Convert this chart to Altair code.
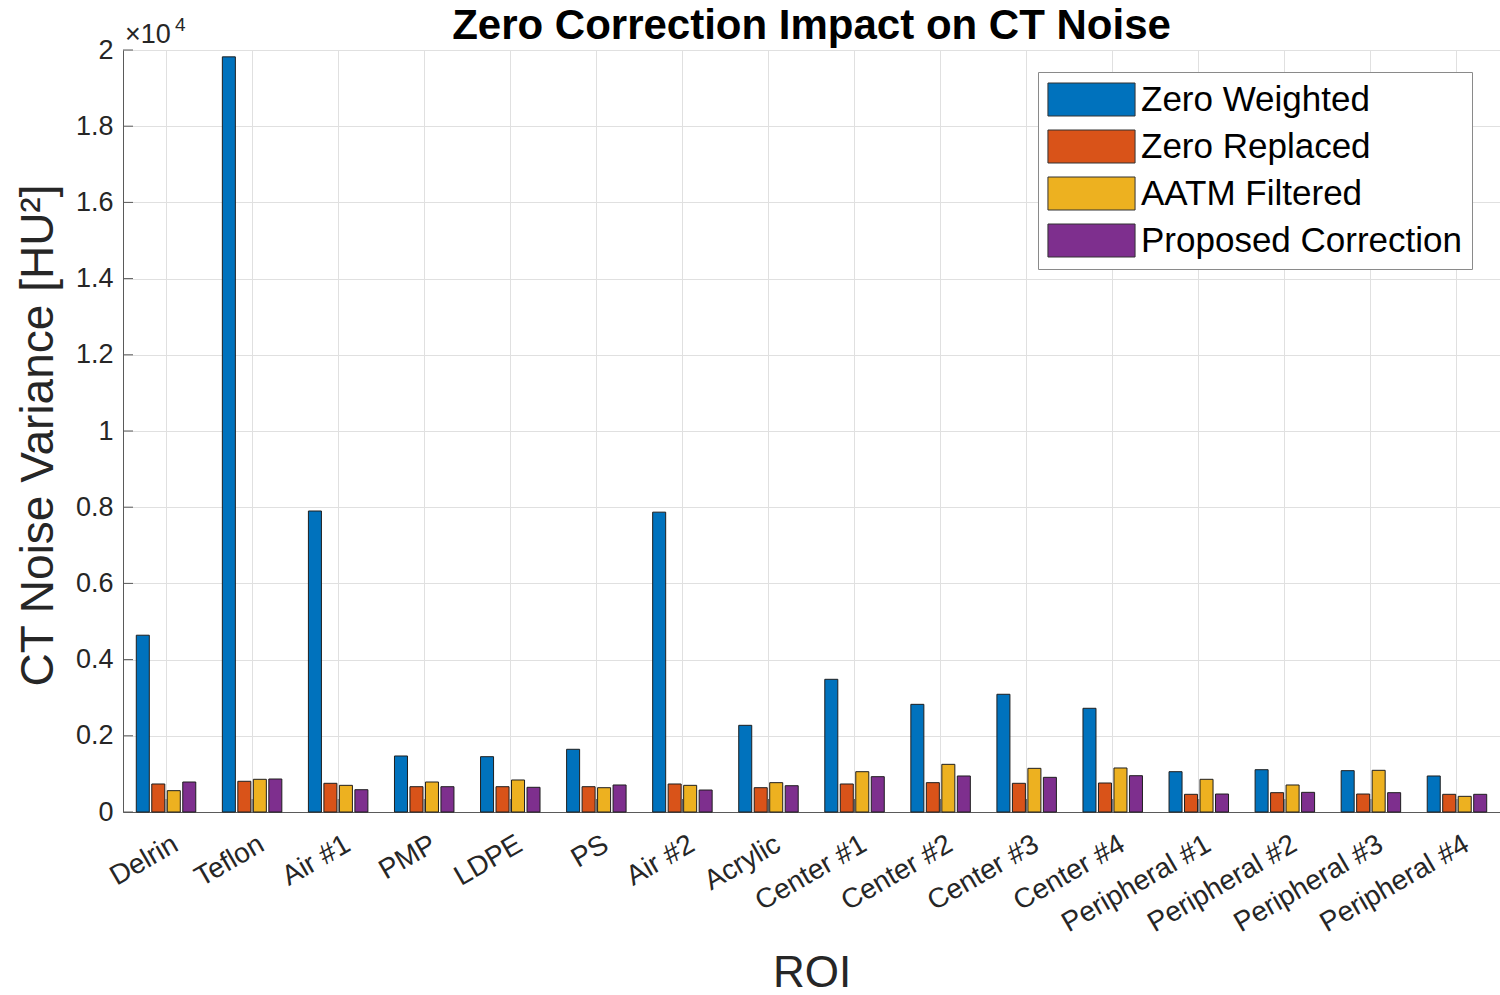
import altair as alt
import pandas as pd

# Regions of interest, in display order
rois = [
    "Delrin", "Teflon", "Air #1", "PMP", "LDPE", "PS", "Air #2", "Acrylic",
    "Center #1", "Center #2", "Center #3", "Center #4",
    "Peripheral #1", "Peripheral #2", "Peripheral #3", "Peripheral #4",
]

# CT noise variance per ROI [HU^2]
zero_weighted = [4640, 19820, 7900, 1470, 1452, 1646, 7870, 2275,
                 3483, 2826, 3090, 2722, 1058, 1110, 1085, 945]
zero_replaced = [735, 806, 753, 664, 664, 664, 735, 638,
                 735, 770, 753, 761, 464, 507, 472, 464]
aatm_filtered = [560, 858, 700, 787, 840, 638, 700, 770,
                 1058, 1251, 1146, 1155, 858, 709, 1094, 411]
proposed_correction = [787, 866, 585, 664, 648, 709, 577, 690,
                       927, 945, 910, 953, 472, 516, 507, 464]

series = ["Zero Weighted", "Zero Replaced", "AATM Filtered", "Proposed Correction"]
colors = ["#0072BD", "#D95319", "#EDB120", "#7E2F8E"]

y_ticks = [0, 2000, 4000, 6000, 8000, 10000, 12000, 14000, 16000, 18000, 20000]
exponent_base = ["×10"]
exponent_power = ["4"]

FONT = "Liberation Sans"
AXIS_COLOR = "#5a5a5a"
TEXT_COLOR = "#262626"
GRID_COLOR = "#e0e0e0"

values = [zero_weighted, zero_replaced, aatm_filtered, proposed_correction]
rows = []
for name, vals in zip(series, values):
    for roi, v in zip(rois, vals):
        rows.append({"ROI": roi, "Series": name, "Variance": v})
df = pd.DataFrame(rows)

W, H = 1377, 762

x_axis = alt.Axis(
    title="ROI",
    titleFontSize=44,
    titleFontWeight="normal",
    titleFont=FONT,
    titleColor=TEXT_COLOR,
    titleY=161,
    titleBaseline="middle",
    labelAngle=330,
    labelAlign="right",
    labelBaseline="top",
    labelFontSize=28,
    labelFont=FONT,
    labelColor=TEXT_COLOR,
    labelPadding=18,
    labelOffset=3,
    labelOverlap=False,
    labelBound=False,
    labelFlush=False,
    ticks=False,
    tickSize=0,
    grid=True,
    gridColor=GRID_COLOR,
    bandPosition=0.5,
    domainColor=AXIS_COLOR,
)

y_axis = alt.Axis(
    title="CT Noise Variance [HU²]",
    titleFontSize=46,
    titleFontWeight="normal",
    titleFont=FONT,
    titleColor=TEXT_COLOR,
    titleX=-85,
    titleY=H / 2 + 4,
    titleAngle=270,
    titleAlign="center",
    titleBaseline="middle",
    values=y_ticks,
    labelExpr="format(datum.value / 10000, '~g')",
    labelFontSize=27,
    labelFont=FONT,
    labelColor=TEXT_COLOR,
    labelPadding=10,
    ticks=False,
    tickSize=0,
    grid=True,
    gridColor=GRID_COLOR,
    domainColor=AXIS_COLOR,
)

x_scale = alt.Scale(paddingInner=0.28, paddingOuter=0.14)
y_scale = alt.Scale(domain=[0, 20000], nice=False)

bars = alt.Chart(df).mark_bar(stroke="#1f1f1f", strokeWidth=1).encode(
    x=alt.X("ROI:N", sort=rois, scale=x_scale, axis=x_axis),
    xOffset=alt.XOffset(
        "Series:N", sort=series,
        scale=alt.Scale(paddingInner=0.16, paddingOuter=0.08),
    ),
    y=alt.Y("Variance:Q", scale=y_scale, axis=y_axis),
    color=alt.Color(
        "Series:N",
        sort=series,
        scale=alt.Scale(domain=series, range=colors),
        legend=alt.Legend(
            title=None,
            orient="none",
            legendX=915,
            legendY=22,
            fillColor="white",
            strokeColor="#8a8a8a",
            padding=10,
            symbolType="M-2.64,-1H2.64V1H-2.64Z",
            symbolSize=1089,
            symbolOffset=26,
            symbolStrokeColor="#333333",
            symbolStrokeWidth=1,
            symbolOpacity=1,
            labelFontSize=35,
            labelFont=FONT,
            labelColor="black",
            labelOffset=32,
            rowPadding=10,
            labelLimit=400,
        ),
    ),
)

# inward tick marks on both axes
xtick_df = pd.DataFrame({"ROI": rois})
xticks = alt.Chart(xtick_df).mark_rule(color=AXIS_COLOR, strokeWidth=1).encode(
    x=alt.X("ROI:N", sort=rois),
    y=alt.value(H),
    y2=alt.value(H - 13),
)

ytick_df = pd.DataFrame({"Variance": y_ticks})
yticks = alt.Chart(ytick_df).mark_rule(color=AXIS_COLOR, strokeWidth=1).encode(
    y=alt.Y("Variance:Q"),
    x=alt.value(0),
    x2=alt.value(10),
)

# axis multiplier above the y axis
exp_base = alt.Chart(pd.DataFrame({"t": exponent_base})).mark_text(
    font=FONT, fontSize=27, color=TEXT_COLOR, align="left", baseline="alphabetic"
).encode(text="t:N", x=alt.value(2), y=alt.value(-7))

exp_power = alt.Chart(pd.DataFrame({"t": exponent_power})).mark_text(
    font=FONT, fontSize=19, color=TEXT_COLOR, align="left", baseline="alphabetic"
).encode(text="t:N", x=alt.value(52), y=alt.value(-19))

chart = alt.layer(bars, xticks, yticks, exp_base, exp_power).properties(
    width=W,
    height=H,
    title=alt.TitleParams(
        "Zero Correction Impact on CT Noise",
        font=FONT,
        fontSize=42,
        fontWeight="bold",
        color="black",
        anchor="middle",
        offset=-32,
    ),
    padding={"left": 123, "top": 50, "right": 0, "bottom": 183},
    autosize=alt.AutoSizeParams(type="none"),
).configure_view(stroke=None).configure(background="white")

chart.save("out.html", embed_options={"renderer": "svg", "actions": False})
